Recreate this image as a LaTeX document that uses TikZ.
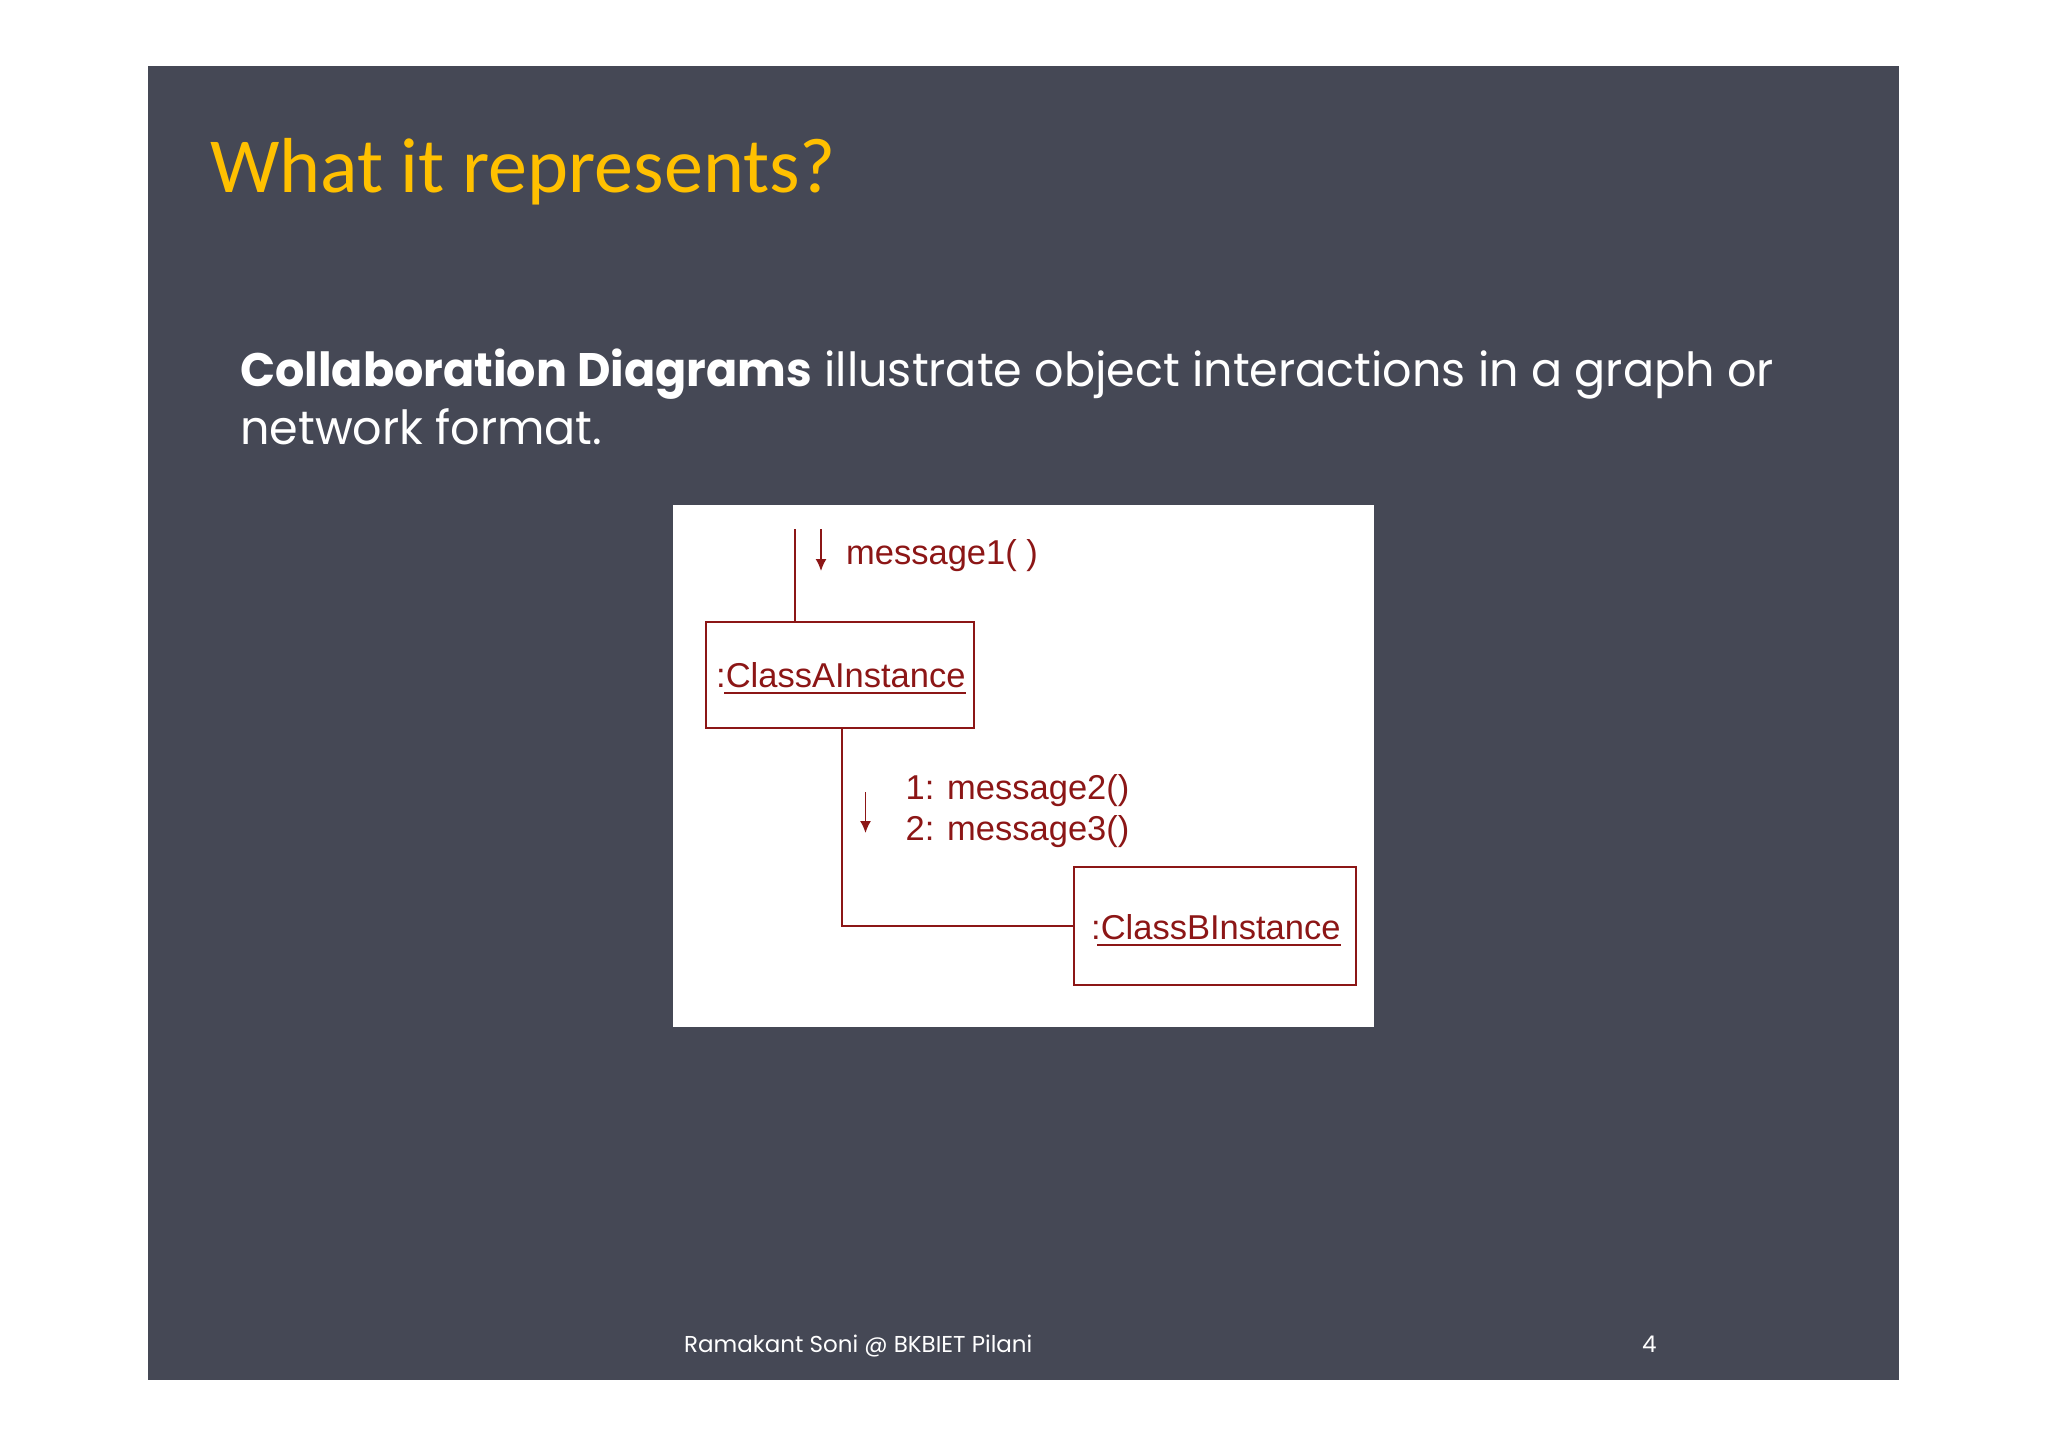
\documentclass[tikz,border=0pt]{standalone}
\usepackage{fontspec}
\usetikzlibrary{arrows.meta}
\newfontfamily\titlefont{Carlito}
\newfontfamily\bodyfont[FakeStretch=0.98]{Poppins}
\newfontfamily\footfont{Poppins}
\newfontfamily\umlfont{Liberation Sans}
\definecolor{slidebg}{RGB}{69,72,85}
\definecolor{titlegold}{RGB}{255,192,0}
\definecolor{umlred}{RGB}{140,22,22}
\tikzset{
  objbox/.style={draw=umlred, line width=2.5pt, fill=white, minimum width=268pt, minimum height=106pt, inner sep=0pt},
  objtext/.style={text=umlred, font=\umlfont\fontsize{34.5}{40}\selectfont, inner sep=0pt, anchor=base west},
  msgtext/.style={text=umlred, font=\umlfont\fontsize{34.5}{40}\selectfont, inner sep=0pt, anchor=base west},
  link/.style={draw=umlred, line width=2pt},
  msgarrow/.style={draw=umlred, line width=1.6pt, -{Latex[length=12pt,width=11pt]}},
  uline/.style={draw=umlred, line width=2.6pt},
}
\begin{document}
\begin{tikzpicture}[x=1pt,y=-1pt]
\useasboundingbox (0,0) rectangle (2048,1448);
\fill[white] (0,0) rectangle (2048,1448);
\fill[slidebg] (148,66) rectangle (1899,1380);
% title
\node[text=titlegold, font=\titlefont\fontsize{78}{90}\selectfont, inner sep=0pt, anchor=base west] (title) at (210,192) {What it represents?};
% body
\node[text=white, font=\bodyfont\fontsize{47}{58}\selectfont, inner sep=0pt, anchor=base west] (body1) at (240,386) {\textbf{Collaboration Diagrams} illustrate object interactions in a graph or};
\node[text=white, font=\bodyfont\fontsize{47}{58}\selectfont, inner sep=0pt, anchor=base west] (body2) at (240,444) {network format.};
% diagram panel
\fill[white] (672.5,505) rectangle (1374,1027);
\node[objbox] (A) at (840,675) {};
\node[objbox, minimum width=282pt, minimum height=118pt] (B) at (1215,926) {};
\node[objtext] (Atxt) at (716,687) {:ClassAInstance};
\node[objtext] (Btxt) at (1091,939) {:ClassBInstance};
\draw[uline] ([xshift=8pt,yshift=-6pt]Atxt.base west) -- ([yshift=-6pt]Atxt.base east);
\draw[uline] ([xshift=6pt,yshift=-6pt]Btxt.base west) -- ([yshift=-6pt]Btxt.base east);
% connectors
\coordinate (in1) at (795,529);
\draw[link] (in1) -- (in1 |- A.north);
\coordinate (lnk) at (842,0);
\draw[link] (lnk |- A.south) |- (B.west);
% message arrows
\coordinate (m1s) at (821,529);
\coordinate (m1e) at (821,571);
\draw[msgarrow] (m1s) -- (m1e);
\coordinate (m2s) at (865.5,792);
\coordinate (m2e) at (865.5,833);
\draw[msgarrow] (m2s) -- (m2e);
\node[msgtext] (m1) at (846,564.5) {message1( )};
\node[msgtext] (m2) at (905.5,799) {1: message2()};
\node[msgtext] (m3) at (905.5,840) {2: message3()};
% footer
\node[text=white, font=\footfont\fontsize{23}{26}\selectfont, inner sep=0pt, anchor=base west] (footer) at (684,1352) {Ramakant Soni @ BKBIET Pilani};
\node[text=white, font=\footfont\fontsize{23}{26}\selectfont, inner sep=0pt, anchor=base west] (pagenum) at (1642,1352) {4};
\end{tikzpicture}
\end{document}
